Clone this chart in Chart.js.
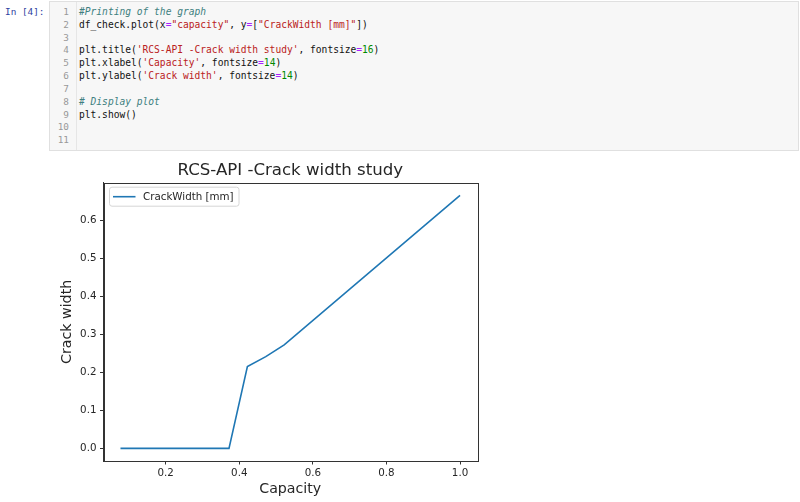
<!DOCTYPE html>
<html>
<head>
<meta charset="utf-8">
<script src="https://cdn.jsdelivr.net/npm/chart.js@4"></script>
<style>
  html,body{margin:0;padding:0;background:#fff;width:800px;height:502px;overflow:hidden;}
  #prompt{position:absolute;left:5px;top:5px;font-family:"DejaVu Sans Mono",monospace;font-size:9.4px;color:#303F9F;line-height:13px;}
  #cell{position:absolute;left:49px;top:1px;width:748px;height:148px;background:#f7f7f7;border:1px solid #e0e0e0;box-sizing:content-box;}
  #gutter{position:absolute;left:0;top:0;width:26px;height:148px;border-right:1px solid #e6e6e6;}
  #nums{position:absolute;right:7px;top:4px;text-align:right;font-family:"DejaVu Sans Mono",monospace;font-size:9.4px;line-height:12.83px;color:#999;white-space:pre;}
  #code{position:absolute;left:29px;top:4px;font-family:"DejaVu Sans Mono",monospace;font-size:9.6px;line-height:12.83px;color:#111;white-space:pre;}
  .c{color:#408080;font-style:italic;}
  .s{color:#BA2121;}
  .o{color:#AA22FF;}
  .n{color:#008800;}
  #wrap{position:absolute;left:0;top:150px;width:800px;height:352px;}
</style>
</head>
<body>
<div id="prompt">In [4]:</div>
<div id="cell">
  <div id="gutter"><div id="nums">1
2
3
4
5
6
7
8
9
10
11</div></div>
  <div id="code"><span class="c">#Printing of the graph</span>
df_check.plot(x<span class="o">=</span><span class="s">"capacity"</span>, y<span class="o">=</span>[<span class="s">"CrackWidth [mm]"</span>])

plt.title(<span class="s">'RCS-API -Crack width study'</span>, fontsize<span class="o">=</span><span class="n">16</span>)
plt.xlabel(<span class="s">'Capacity'</span>, fontsize<span class="o">=</span><span class="n">14</span>)
plt.ylabel(<span class="s">'Crack width'</span>, fontsize<span class="o">=</span><span class="n">14</span>)

<span class="c"># Display plot</span>
plt.show()

</div>
</div>
<div id="wrap"><canvas id="chart" width="800" height="352"></canvas></div>
<script>
// ---- data ----
const capacity = [0.077, 0.372, 0.422, 0.472, 0.522, 1.0];
const crackWidth = [0.0, 0.0, 0.215, 0.241, 0.272, 0.665];
const xTicks = [0.2, 0.4, 0.6, 0.8, 1.0];
const yTicks = [0.0, 0.1, 0.2, 0.3, 0.4, 0.5, 0.6];
const seriesLabel = 'CrackWidth [mm]';
const titleText = 'RCS-API -Crack width study';
const xLabel = 'Capacity';
const yLabel = 'Crack width';

const points = capacity.map((c, i) => ({x: c, y: crackWidth[i]}));
const xMinD = Math.min(...capacity), xMaxD = Math.max(...capacity);
const yMinD = Math.min(...crackWidth), yMaxD = Math.max(...crackWidth);
const xm = (xMaxD - xMinD) * 0.05, ym = (yMaxD - yMinD) * 0.05;

const AREA = {left: 103.5, right: 477, top: 32.7, bottom: 311};
const FONT = '"DejaVu Sans", sans-serif';
const TXT = '#262626';
const SPINE = '#333333';

const decor = {
  id: 'decor',
  afterDraw(chart) {
    const ctx = chart.ctx, a = chart.chartArea;
    ctx.save();
    // spines
    ctx.strokeStyle = SPINE; ctx.lineWidth = 1;
    ctx.strokeRect(Math.round(a.left) + 0.5, Math.round(a.top) + 0.5,
                   Math.round(a.right - a.left), Math.round(a.bottom - a.top));
    // title
    ctx.fillStyle = TXT;
    ctx.textAlign = 'center'; ctx.textBaseline = 'middle';
    ctx.font = '16.6px ' + FONT;
    ctx.fillText(titleText, (a.left + a.right) / 2, a.top - 12);
    // x label
    ctx.font = '14.2px ' + FONT;
    ctx.fillText(xLabel, (a.left + a.right) / 2, a.bottom + 28.5);
    // y label
    ctx.save();
    ctx.translate(a.left - 36.5, (a.top + a.bottom) / 2);
    ctx.rotate(-Math.PI / 2);
    ctx.fillText(yLabel, 0, 0);
    ctx.restore();
    // legend
    const lx = a.left + 6, ly = a.top + 4.5, lw = 129.5, lh = 19;
    ctx.beginPath();
    const r = 2.5;
    ctx.moveTo(lx + r, ly);
    ctx.lineTo(lx + lw - r, ly); ctx.quadraticCurveTo(lx + lw, ly, lx + lw, ly + r);
    ctx.lineTo(lx + lw, ly + lh - r); ctx.quadraticCurveTo(lx + lw, ly + lh, lx + lw - r, ly + lh);
    ctx.lineTo(lx + r, ly + lh); ctx.quadraticCurveTo(lx, ly + lh, lx, ly + lh - r);
    ctx.lineTo(lx, ly + r); ctx.quadraticCurveTo(lx, ly, lx + r, ly);
    ctx.closePath();
    ctx.fillStyle = 'rgba(255,255,255,0.8)'; ctx.fill();
    ctx.strokeStyle = '#d6d6d6'; ctx.lineWidth = 1; ctx.stroke();
    const ds = chart.data.datasets[0];
    ctx.strokeStyle = ds.borderColor; ctx.lineWidth = 1.6;
    ctx.beginPath(); ctx.moveTo(lx + 3.5, ly + lh / 2); ctx.lineTo(lx + 26, ly + lh / 2); ctx.stroke();
    ctx.fillStyle = TXT; ctx.font = '10.3px ' + FONT;
    ctx.textAlign = 'left';
    ctx.fillText(ds.label, lx + 33.5, ly + lh / 2 + 0.5);
    ctx.restore();
  }
};

new Chart(document.getElementById('chart'), {
  type: 'line',
  data: {
    datasets: [{
      label: seriesLabel,
      data: points,
      borderColor: '#1f77b4',
      borderWidth: 1.6,
      pointRadius: 0,
      fill: false,
      tension: 0
    }]
  },
  options: {
    responsive: false,
    animation: false,
    devicePixelRatio: 1,
    layout: {padding: {left: 0, right: 800 - AREA.right, top: AREA.top, bottom: 0}},
    plugins: {legend: {display: false}, title: {display: false}, tooltip: {enabled: false}},
    scales: {
      x: {
        type: 'linear',
        min: xMinD - xm, max: xMaxD + xm,
        afterBuildTicks: s => { s.ticks = xTicks.map(v => ({value: v})); },
        afterFit: s => { s.height = 352 - AREA.bottom; },
        grid: {drawOnChartArea: false, drawTicks: true, tickLength: 3.5, tickColor: SPINE, tickWidth: 1},
        border: {display: true, color: SPINE, width: 1},
        ticks: {color: TXT, font: {family: FONT, size: 10.3}, padding: 2.5, maxRotation: 0,
                callback: v => Number(v).toFixed(1)}
      },
      y: {
        type: 'linear',
        min: yMinD - ym, max: yMaxD + ym,
        afterBuildTicks: s => { s.ticks = yTicks.map(v => ({value: v})); },
        afterFit: s => { s.width = AREA.left; },
        grid: {drawOnChartArea: false, drawTicks: true, tickLength: 3.5, tickColor: SPINE, tickWidth: 1},
        border: {display: true, color: SPINE, width: 1},
        ticks: {color: TXT, font: {family: FONT, size: 10.3}, padding: 3.5,
                callback: v => Number(v).toFixed(1)}
      }
    }
  },
  plugins: [decor]
});
</script>
</body>
</html>
